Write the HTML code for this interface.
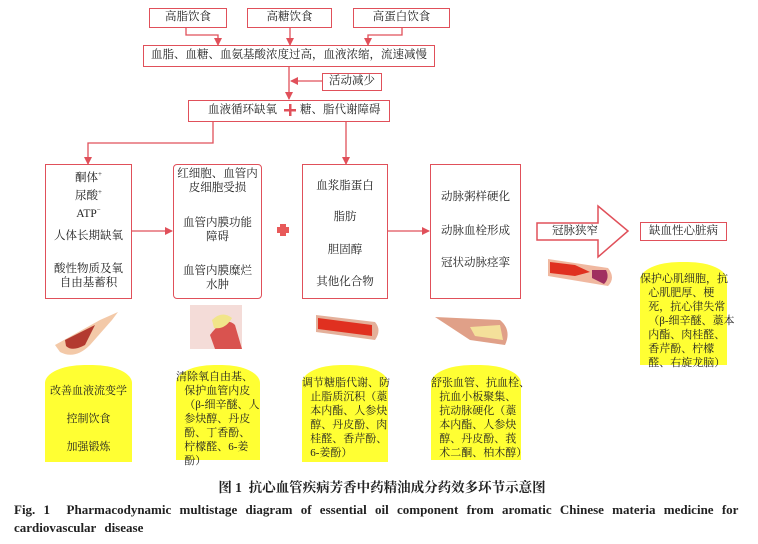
<!DOCTYPE html><html><head><meta charset="utf-8"><style>
body{margin:0;width:758px;height:544px;background:#fff;position:relative;font-family:"Liberation Serif","Noto Serif CJK SC","Noto Sans CJK SC",serif;color:#222;overflow:hidden}
.b{position:absolute;border:1.5px solid #e0505a;box-sizing:border-box;font-size:11.5px;text-align:center;background:#fff;white-space:nowrap}
.y{position:absolute;background:#ffff33;box-sizing:border-box;border-radius:45% 45% 0 0/18px 18px 0 0}
.yt{position:absolute;font-size:11px;line-height:14px;white-space:nowrap}
.t{position:absolute;font-size:11.5px;text-align:center;line-height:18px;white-space:nowrap}
</style></head><body>
<svg width="758" height="544" style="position:absolute;left:0;top:0">
<defs><marker id="a" markerWidth="8" markerHeight="8" refX="7" refY="4" orient="auto" markerUnits="userSpaceOnUse"><path d="M0,0 L8,4 L0,8z" fill="#e0505a"/></marker></defs>
<g stroke="#e0505a" stroke-width="1.3" fill="none">
<path d="M186,27 V35 H218 V45" marker-end="url(#a)"/>
<path d="M290,27 V45" marker-end="url(#a)"/>
<path d="M402,27 V35 H368 V45" marker-end="url(#a)"/>
<path d="M289,67 V99" marker-end="url(#a)"/>
<path d="M322,81 H291" marker-end="url(#a)"/>
<path d="M213,121 V143 H88 V164" marker-end="url(#a)"/>
<path d="M346,121 V164" marker-end="url(#a)"/>
<path d="M131,231 H172" marker-end="url(#a)"/>
<path d="M388,231 H429" marker-end="url(#a)"/>
<path d="M537,223 H598 V206 L628,231 L598,257 V240 H537 Z" stroke-width="1.5" fill="#fff"/>
</g>
<g fill="#e85a5a">
<rect x="277" y="227" width="12" height="6"/><rect x="280" y="224" width="6" height="12"/>
<path d="M84,190h8v8h6l-10,9l-10,-9h6z"/><path d="M84,248h8v8h6l-10,9l-10,-9h6z"/>
<path d="M213,190h8v8h6l-10,9l-10,-9h6z"/><path d="M213,250h8v8h6l-10,9l-10,-9h6z"/>
</g>
<g fill="#e0505a"><rect x="341" y="199" width="12" height="2"/><rect x="346" y="194" width="2" height="12"/>
<rect x="341" y="230" width="12" height="2"/><rect x="346" y="225" width="2" height="12"/>
<rect x="341" y="266" width="12" height="2"/><rect x="346" y="261" width="2" height="12"/>
<rect x="284" y="109" width="12" height="2.5"/><rect x="289" y="104" width="2.5" height="12"/></g>
<path d="M55,345 L100,320 L118,312 L112,320 L90,345 Q75,360 60,352z" fill="#f3c9a8"/><path d="M65,340 L95,325 L85,345 Q72,352 66,346z" fill="#b33a30"/>
<rect x="190" y="305" width="52" height="44" fill="#f4dcd8"/><path d="M210,335 Q225,315 235,325 L242,349 H215z" fill="#d9534f"/><path d="M212,320 Q222,310 232,318 Q225,330 214,328z" fill="#f1e58a"/>
<path d="M316,315 L375,322 Q382,330 375,340 L316,332z" fill="#e4b09a"/><path d="M318,318 L372,325 L372,336 L318,329z" fill="#e03020"/>
<path d="M435,317 L500,320 Q512,330 505,345 L470,340z" fill="#e0a088"/><path d="M470,327 L500,325 L503,340 L475,336z" fill="#f4e09a"/>
<path d="M548,259 L608,268 Q616,278 608,286 L548,276z" fill="#f0b8a0"/><path d="M550,262 L575,265 L590,272 L575,276 L550,273z" fill="#e03020"/><path d="M592,270 L606,270 Q610,278 604,284 L592,278z" fill="#a03060"/>
</svg>
<div class="b" style="left:149px;top:8px;width:78px;height:20px;line-height:17px">高脂饮食</div>
<div class="b" style="left:247px;top:8px;width:85px;height:20px;line-height:17px">高糖饮食</div>
<div class="b" style="left:353px;top:8px;width:97px;height:20px;line-height:17px">高蛋白饮食</div>
<div class="b" style="left:143px;top:45px;width:292px;height:22px;line-height:19px">血脂、血糖、血氨基酸浓度过高，血液浓缩，流速减慢</div>
<div class="b" style="left:322px;top:73px;width:60px;height:18px;line-height:15px">活动减少</div>
<div class="b" style="left:188px;top:100px;width:202px;height:22px;background:none"></div>
<div class="t" style="left:205px;top:101px;width:75px">血液循环缺氧</div>
<div class="t" style="left:300px;top:101px;width:85px;text-align:left">糖、脂代谢障碍</div>
<div class="b" style="left:45px;top:164px;width:87px;height:135px"></div>
<div class="t" style="left:45px;top:167px;width:87px;line-height:14px">酮体<sup style="font-size:7px">+</sup><br>尿酸<sup style="font-size:7px">+</sup><br>ATP<sup style="font-size:7px">−</sup></div>
<div class="t" style="left:45px;top:227px;width:87px">人体长期缺氧</div>
<div class="t" style="left:45px;top:262px;width:87px;line-height:14px">酸性物质及氧<br>自由基蓄积</div>
<div class="b" style="left:173px;top:164px;width:89px;height:135px;border-radius:4px"></div>
<div class="t" style="left:173px;top:167px;width:89px;line-height:14px">红细胞、血管内<br>皮细胞受损</div>
<div class="t" style="left:173px;top:216px;width:89px;line-height:14px">血管内膜功能<br>障碍</div>
<div class="t" style="left:173px;top:264px;width:89px;line-height:14px">血管内膜糜烂<br>水肿</div>
<div class="b" style="left:302px;top:164px;width:86px;height:135px"></div>
<div class="t" style="left:302px;top:177px;width:86px">血浆脂蛋白</div>
<div class="t" style="left:302px;top:208px;width:86px">脂肪</div>
<div class="t" style="left:302px;top:241px;width:86px">胆固醇</div>
<div class="t" style="left:302px;top:273px;width:86px">其他化合物</div>
<div class="b" style="left:430px;top:164px;width:91px;height:135px"></div>
<div class="t" style="left:430px;top:188px;width:91px">动脉粥样硬化</div>
<div class="t" style="left:430px;top:222px;width:91px">动脉血栓形成</div>
<div class="t" style="left:430px;top:254px;width:91px">冠状动脉痉挛</div>
<div class="t" style="left:540px;top:222px;width:70px">冠脉狭窄</div>
<div class="b" style="left:640px;top:222px;width:87px;height:19px;line-height:16px">缺血性心脏病</div>

<div class="y" style="left:45px;top:365px;width:87px;height:97px"></div>
<div class="yt" style="left:45px;top:377px;width:87px;text-align:center;line-height:28px">改善血液流变学<br>控制饮食<br>加强锻炼</div>
<div class="y" style="left:176px;top:365px;width:84px;height:95px"></div>
<div class="yt" style="left:176px;top:370px">清除氧自由基、<br>&nbsp;&nbsp;&nbsp;保护血管内皮<br>&nbsp;&nbsp;&nbsp;（β-细辛醚、人<br>&nbsp;&nbsp;&nbsp;参炔醇、丹皮<br>&nbsp;&nbsp;&nbsp;酚、丁香酚、<br>&nbsp;&nbsp;&nbsp;柠檬醛、6-姜<br>&nbsp;&nbsp;&nbsp;酚）</div>
<div class="y" style="left:302px;top:365px;width:86px;height:97px"></div>
<div class="yt" style="left:302px;top:376px">调节糖脂代谢、防<br>&nbsp;&nbsp;&nbsp;止脂质沉积（藁<br>&nbsp;&nbsp;&nbsp;本内酯、人参炔<br>&nbsp;&nbsp;&nbsp;醇、丹皮酚、肉<br>&nbsp;&nbsp;&nbsp;桂醛、香芹酚、<br>&nbsp;&nbsp;&nbsp;6-姜酚）</div>
<div class="y" style="left:431px;top:365px;width:90px;height:95px"></div>
<div class="yt" style="left:431px;top:376px">舒张血管、抗血栓、<br>&nbsp;&nbsp;&nbsp;抗血小板聚集、<br>&nbsp;&nbsp;&nbsp;抗动脉硬化（藁<br>&nbsp;&nbsp;&nbsp;本内酯、人参炔<br>&nbsp;&nbsp;&nbsp;醇、丹皮酚、莪<br>&nbsp;&nbsp;&nbsp;术二酮、柏木醇）</div>
<div class="y" style="left:640px;top:262px;width:87px;height:103px"></div>
<div class="yt" style="left:640px;top:272px">保护心肌细胞，抗<br>&nbsp;&nbsp;&nbsp;心肌肥厚、梗<br>&nbsp;&nbsp;&nbsp;死，抗心律失常<br>&nbsp;&nbsp;&nbsp;（β-细辛醚、藁本<br>&nbsp;&nbsp;&nbsp;内酯、肉桂醛、<br>&nbsp;&nbsp;&nbsp;香芹酚、柠檬<br>&nbsp;&nbsp;&nbsp;醛、右旋龙脑）</div>

<div class="t" style="left:0;top:479px;width:764px;font-size:13.5px;font-weight:bold">图 1 &nbsp;抗心血管疾病芳香中药精油成分药效多环节示意图</div>
<div style="position:absolute;left:14px;top:501px;width:744px;font-size:13px;word-spacing:5px;font-weight:bold;line-height:18px;font-family:'Liberation Serif',serif;white-space:nowrap">Fig. 1 &nbsp;Pharmacodynamic multistage diagram of essential oil component from aromatic Chinese materia medicine for<br>cardiovascular disease</div>
</body></html>
